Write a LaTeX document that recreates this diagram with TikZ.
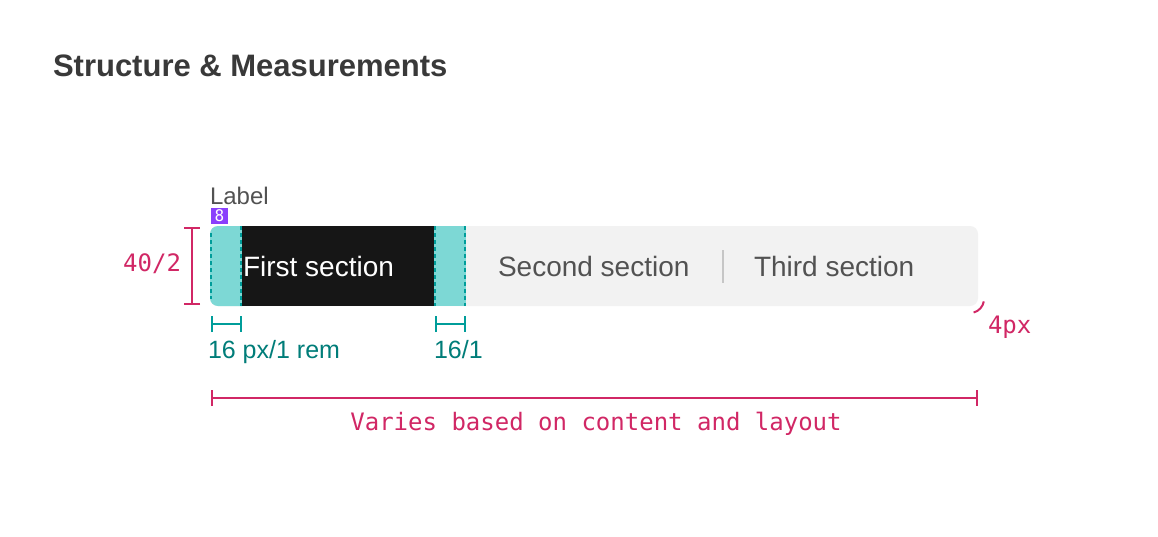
\documentclass[tikz,border=0pt]{standalone}
\usepackage{fontspec}
\setmainfont{Liberation Sans}
\setmonofont{DejaVu Sans Mono}
\usetikzlibrary{arrows.meta}

\definecolor{titlegray}{HTML}{393939}
\definecolor{textgray}{HTML}{525252}
\definecolor{barbg}{HTML}{F2F2F2}
\definecolor{barblack}{HTML}{161616}
\definecolor{padfill}{HTML}{7DD8D5}
\definecolor{padline}{HTML}{009D9A}
\definecolor{padtext}{HTML}{007D79}
\definecolor{dimpink}{HTML}{D12765}
\definecolor{tagpurple}{HTML}{8A3FFC}
\definecolor{divgray}{HTML}{C6C6C6}

\begin{document}
\begin{tikzpicture}[x=1pt, y=-1pt,
    every node/.style={inner sep=0pt, outer sep=0pt},
    sectext/.style={font=\fontsize{28}{32}\selectfont, anchor=base west},
    padedge/.style={draw=padline, line width=2pt, dash pattern=on 4pt off 3pt},
    pinkdim/.style={draw=dimpink, line width=2pt, {Bar[width=16pt]}-{Bar[width=16pt]}},
    tealdim/.style={draw=padline, line width=2pt, {Bar[width=16pt]}-{Bar[width=16pt]}},
    monolabel/.style={font=\ttfamily\fontsize{24}{28}\selectfont, text=dimpink}]
\fill[white] (0,0) rectangle (1158,536);
\useasboundingbox (0,0) rectangle (1158,536);

% title
\node[anchor=base west, text=titlegray, font=\bfseries\fontsize{31}{36}\selectfont] (title) at (53,76) {Structure \& Measurements};

% bar
\node[fill=barbg, rounded corners=8pt, minimum width=768pt, minimum height=80pt, anchor=north west] (bar) at (210,226) {};
\fill[padfill, rounded corners=8pt] (bar.north west) rectangle (250,306);
\node[fill=barblack, minimum width=192pt, minimum height=80pt, anchor=north west] (first) at (242,226) {};
\node[fill=padfill, minimum width=32pt, minimum height=80pt, anchor=north west] (padr) at (434,226) {};

\draw[padedge] (211,233) -- (211,299);
\draw[padedge] ([xshift=-1pt]first.north west) -- ([xshift=-1pt]first.south west);
\draw[padedge] ([xshift=1pt]padr.north west) -- ([xshift=1pt]padr.south west);
\draw[padedge] ([xshift=-1pt]padr.north east) -- ([xshift=-1pt]padr.south east);

\node[sectext, text=white] (t1) at (243,276) {First section};
\node[sectext, text=textgray] (t2) at (498,276) {Second section};
\node[sectext, text=textgray] (t3) at (754,276) {Third section};
\coordinate (d1) at (723,250);
\coordinate (d2) at (723,283);
\draw[divgray, line width=2pt] (d1) -- (d2);

% label and tag
\node[anchor=base west, text=textgray, font=\fontsize{24}{28}\selectfont] (lbl) at (210,204) {Label};
\node[fill=tagpurple, minimum width=17pt, minimum height=16pt, text=white, font=\ttfamily\fontsize{16}{16}\selectfont] (tag) at (219.5,216) {8};

% height
\coordinate (h1) at (192,227);
\coordinate (h2) at (192,305);
\draw[pinkdim] (h1) -- (h2);
\node[monolabel, anchor=east] (hlab) at (181,264) {40/2};

% padding
\coordinate (p1) at (211,324);
\coordinate (p2) at (242,324);
\draw[tealdim] (p1) -- (p2);
\node[anchor=base west, text=padtext, font=\fontsize{25}{28}\selectfont] (plab) at (208,358) {16 px/1 rem};
\coordinate (q1) at (435,324);
\coordinate (q2) at (466,324);
\draw[tealdim] (q1) -- (q2);
\node[anchor=base west, text=padtext, font=\fontsize{25}{28}\selectfont] (qlab) at (434,358) {16/1};

% corner radius
\draw[dimpink, line width=2pt] (970,299) ++(10:14) arc[start angle=10, end angle=75, radius=14];
\node[monolabel, anchor=base west] (rlab) at (988,333) {4px};

% width
\coordinate (w1) at (211,398);
\coordinate (w2) at (978,398);
\draw[pinkdim] (w1) -- (w2);
\node[monolabel, anchor=base] (wlab) at (596,430) {Varies based on content and layout};
\end{tikzpicture}
\end{document}
